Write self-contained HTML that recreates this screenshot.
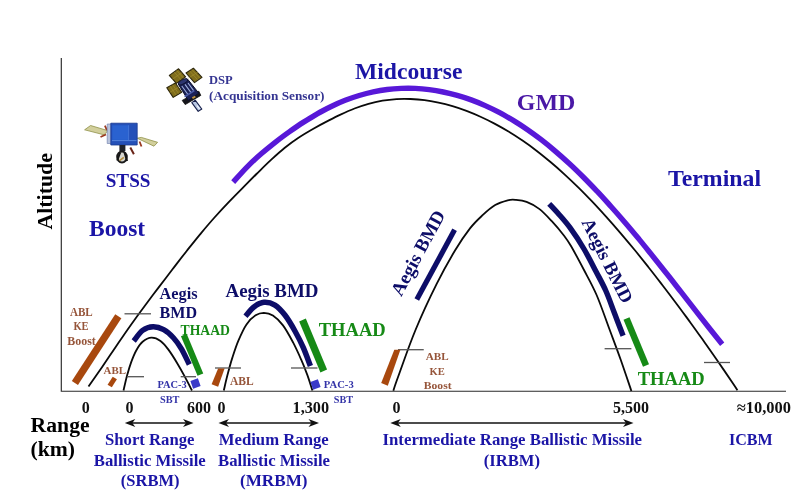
<!DOCTYPE html>
<html><head><meta charset="utf-8"><title>Ballistic Missile Defense</title>
<style>html,body{margin:0;padding:0;background:#fff}svg{display:block}text{font-family:"Liberation Serif",serif;font-weight:bold}</style>
</head><body>
<svg width="800" height="493" viewBox="0 0 800 493">
<rect width="800" height="493" fill="#fff"/>
<path d="M61.3 58V391.2H786" fill="none" stroke="#2a2a2a" stroke-width="1.15"/>
<path d="M88.5 386.6 C90.8 383.2 97.8 373.3 102.5 366.5 C107.2 359.7 111.8 352.6 116.5 345.7 C121.2 338.8 125.8 332.0 130.5 325.4 C135.2 318.8 139.8 312.5 144.5 306.2 C149.2 299.9 153.8 293.8 158.5 287.6 C163.2 281.5 167.8 275.4 172.5 269.3 C177.2 263.2 181.8 257.1 186.5 251.2 C191.2 245.3 195.8 239.4 200.5 233.8 C205.2 228.2 209.8 222.7 214.5 217.5 C219.2 212.3 223.8 207.3 228.5 202.4 C233.2 197.5 237.8 192.8 242.5 188.1 C247.2 183.4 251.8 178.6 256.5 174.0 C261.2 169.4 265.8 164.7 270.5 160.4 C275.2 156.1 279.8 151.8 284.5 148.0 C289.2 144.2 293.8 140.8 298.5 137.7 C303.2 134.6 307.8 131.9 312.5 129.2 C317.2 126.5 321.8 124.0 326.5 121.6 C331.2 119.2 335.8 116.8 340.5 114.6 C345.2 112.4 349.8 110.3 354.5 108.5 C359.2 106.7 363.8 105.1 368.5 103.8 C373.2 102.5 377.8 101.5 382.5 100.7 C387.2 99.9 391.8 99.4 396.5 99.1 C401.2 98.8 405.8 98.8 410.5 99.0 C415.2 99.2 419.8 99.5 424.5 100.1 C429.2 100.7 433.8 101.6 438.5 102.6 C443.2 103.6 447.8 104.8 452.5 106.2 C457.2 107.6 461.8 109.2 466.5 110.9 C471.2 112.7 475.8 114.6 480.5 116.7 C485.2 118.8 489.8 121.1 494.5 123.6 C499.2 126.1 503.8 128.7 508.5 131.5 C513.2 134.3 517.8 137.4 522.5 140.6 C527.2 143.8 531.8 147.1 536.5 150.7 C541.2 154.3 545.8 158.1 550.5 162.0 C555.2 165.9 559.8 170.0 564.5 174.3 C569.2 178.6 573.8 183.0 578.5 187.6 C583.2 192.2 587.8 197.0 592.5 201.9 C597.2 206.8 601.8 211.9 606.5 217.1 C611.2 222.3 615.8 227.6 620.5 233.1 C625.2 238.6 629.8 244.1 634.5 249.8 C639.2 255.5 643.8 261.3 648.5 267.2 C653.2 273.1 657.8 279.1 662.5 285.2 C667.2 291.3 671.8 297.4 676.5 303.7 C681.2 309.9 685.8 316.3 690.5 322.7 C695.2 329.1 699.8 335.6 704.5 342.2 C709.2 348.8 713.8 355.4 718.5 362.2 C723.2 369.0 729.3 378.1 732.5 382.8 C735.7 387.5 736.7 389.1 737.5 390.3" fill="none" stroke="#0a0a0a" stroke-width="1.8"/>
<path d="M393.3 390.8 C394.1 388.3 394.7 386.1 398.4 376.0 C402.1 365.9 409.1 345.4 415.5 330.0 C421.9 314.6 430.2 296.9 436.8 283.7 C443.4 270.4 449.5 259.7 455.0 250.5 C460.5 241.3 465.4 234.3 470.0 228.4 C474.6 222.5 478.4 219.1 482.6 215.2 C486.8 211.3 491.0 207.6 495.2 205.1 C499.4 202.6 504.4 201.2 507.7 200.3 C511.0 199.4 512.1 199.5 515.3 199.8 C518.4 200.1 522.6 200.4 526.6 201.9 C530.6 203.4 535.0 205.7 539.2 208.9 C543.4 212.1 547.6 216.7 551.8 221.2 C556.0 225.7 561.1 231.9 564.3 236.0 C567.5 240.1 567.7 240.3 571.0 246.0 C574.3 251.7 579.7 261.8 584.0 270.0 C588.3 278.2 592.4 285.3 596.6 295.0 C600.8 304.7 605.0 317.2 609.0 328.0 C613.0 338.8 617.1 349.5 620.8 360.0 C624.5 370.5 629.6 385.8 631.4 391.0" fill="none" stroke="#0a0a0a" stroke-width="1.8"/>
<path d="M123.5 390.5 C124.1 387.9 125.9 379.7 127.2 375.0 C128.5 370.3 129.7 366.2 131.2 362.1 C132.7 358.1 134.2 354.1 136.1 350.7 C138.0 347.3 140.0 344.0 142.6 341.8 C145.2 339.6 148.5 337.8 151.5 337.7 C154.5 337.6 157.7 339.0 160.5 341.0 C163.3 343.0 165.8 346.1 168.6 349.9 C171.4 353.7 174.8 359.2 177.5 363.7 C180.2 368.2 182.4 372.2 184.8 376.7 C187.2 381.2 190.8 388.2 192.0 390.5" fill="none" stroke="#0a0a0a" stroke-width="1.8"/>
<path d="M223.8 390.5 C224.4 388.1 225.8 381.5 227.2 376.1 C228.6 370.7 230.4 363.8 232.3 357.9 C234.2 352.0 236.0 346.2 238.4 340.6 C240.8 335.0 243.6 328.6 246.5 324.4 C249.4 320.2 252.7 317.2 255.6 315.3 C258.5 313.4 260.9 312.8 263.8 312.8 C266.7 312.9 269.7 313.5 272.9 315.6 C276.1 317.7 279.6 320.9 283.0 325.4 C286.4 329.9 290.1 336.9 293.2 342.7 C296.2 348.4 298.9 354.5 301.3 359.9 C303.7 365.3 305.5 370.0 307.4 375.1 C309.2 380.2 311.6 387.9 312.4 390.5" fill="none" stroke="#0a0a0a" stroke-width="1.8"/>
<path d="M233.2 182.1 C235.5 179.6 242.5 171.5 247.2 166.8 C251.9 162.1 256.5 157.9 261.2 153.8 C265.9 149.7 270.5 146.0 275.2 142.3 C279.9 138.7 284.5 135.2 289.2 131.9 C293.9 128.6 298.5 125.4 303.2 122.4 C307.9 119.4 312.5 116.5 317.2 113.8 C321.9 111.1 326.5 108.8 331.2 106.5 C335.9 104.2 340.5 102.1 345.2 100.3 C349.9 98.5 354.5 96.9 359.2 95.5 C363.9 94.1 368.5 92.9 373.2 91.9 C377.9 90.9 382.5 90.1 387.2 89.5 C391.9 88.9 396.5 88.6 401.2 88.4 C405.9 88.2 410.5 88.2 415.2 88.4 C419.9 88.6 424.5 89.0 429.2 89.6 C433.9 90.2 438.5 91.0 443.2 92.0 C447.9 93.0 452.5 94.1 457.2 95.4 C461.9 96.7 466.5 98.2 471.2 99.9 C475.9 101.6 480.5 103.5 485.2 105.6 C489.9 107.7 494.5 109.9 499.2 112.4 C503.9 114.9 508.5 117.6 513.2 120.4 C517.9 123.2 522.5 126.3 527.2 129.5 C531.9 132.7 536.5 136.1 541.2 139.7 C545.9 143.3 550.5 147.1 555.2 151.1 C559.9 155.1 564.5 159.2 569.2 163.5 C573.9 167.8 578.5 172.3 583.2 177.0 C587.9 181.7 592.5 186.5 597.2 191.4 C601.9 196.3 606.5 201.5 611.2 206.7 C615.9 211.9 620.5 217.2 625.2 222.7 C629.9 228.1 634.5 233.7 639.2 239.4 C643.9 245.1 648.5 250.9 653.2 256.7 C657.9 262.5 662.5 268.4 667.2 274.3 C671.9 280.2 676.5 286.2 681.2 292.2 C685.9 298.2 690.5 304.1 695.2 310.1 C699.9 316.1 704.7 322.3 709.2 328.0 C713.7 333.7 720.0 341.6 722.2 344.3" fill="none" stroke="#5818d8" stroke-width="5.4"/>
<path d="M133.7 341.0 C135.2 339.2 139.4 332.8 142.6 330.4 C145.8 328.0 149.6 326.8 153.1 326.7 C156.6 326.6 160.3 327.8 163.7 329.6 C167.1 331.4 170.4 334.4 173.4 337.7 C176.4 340.9 179.2 345.0 181.6 349.1 C184.0 353.2 186.8 359.5 188.1 362.1 C189.4 364.7 189.1 364.1 189.3 364.5" fill="none" stroke="#0d0d68" stroke-width="5.4"/>
<path d="M245.5 316.3 C246.8 314.8 250.5 309.5 253.6 307.2 C256.6 304.9 260.2 302.6 263.8 302.3 C267.4 302.0 271.3 302.9 274.9 305.1 C278.4 307.3 281.7 310.9 285.1 315.3 C288.5 319.7 292.2 326.1 295.2 331.5 C298.2 336.9 300.8 341.9 303.3 347.7 C305.8 353.4 309.2 362.9 310.4 366.0" fill="none" stroke="#0d0d68" stroke-width="5.5"/>
<path d="M549.2 203.8 C550.7 205.4 554.5 209.3 558.0 213.3 C561.5 217.3 565.7 221.8 570.0 227.7 C574.3 233.6 579.7 241.7 584.0 249.0 C588.3 256.3 592.4 264.6 596.0 271.5 C599.6 278.4 602.6 283.6 605.7 290.5 C608.8 297.4 611.5 305.4 614.4 313.0 C617.3 320.6 621.6 332.0 623.1 335.8" fill="none" stroke="#0d0d68" stroke-width="5.4"/>
<path d="M416.8 299.5L454.6 229.8" stroke="#0d0d68" stroke-width="5.2"/>
<path d="M124.5 313.8H151" stroke="#555" stroke-width="1.3"/>
<path d="M127 376.7H144" stroke="#555" stroke-width="1.3"/>
<path d="M180.7 376.7H196" stroke="#555" stroke-width="1.3"/>
<path d="M215 368H241" stroke="#555" stroke-width="1.3"/>
<path d="M291 368H317.5" stroke="#555" stroke-width="1.3"/>
<path d="M398 349.7H423.75" stroke="#555" stroke-width="1.3"/>
<path d="M604.6 348.7H631.4" stroke="#555" stroke-width="1.3"/>
<path d="M704 362.5H730" stroke="#555" stroke-width="1.3"/>
<path d="M183.8 335L200.4 374.6" stroke="#168a16" stroke-width="6.2"/>
<path d="M302.5 320L323.75 371" stroke="#168a16" stroke-width="7.2"/>
<path d="M626.5 318.6L646 365.4" stroke="#168a16" stroke-width="6.5"/>
<path d="M74.9 383L118.3 316.2" stroke="#a8480e" stroke-width="7.3"/>
<path d="M109.7 386L114.8 378" stroke="#a8480e" stroke-width="5"/>
<polygon points="218.1,368.4 224.6,368.4 218.1,386.7 211.6,384.2" fill="#a8480e"/>
<polygon points="394.3,349.7 400.4,349.7 387.8,385.8 381.2,383.1" fill="#a8480e"/>
<rect x="191.5" y="379.5" width="8" height="8" fill="#3a3ac8" transform="rotate(-20 195.5 383.5)"/>
<rect x="311.5" y="380.5" width="8" height="8" fill="#3a3ac8" transform="rotate(-20 315.5 384.5)"/>
<text x="355" y="79" font-size="23.5" fill="#1b15a6" text-anchor="start" textLength="107.5" lengthAdjust="spacingAndGlyphs" >Midcourse</text>
<text x="516.8" y="110.2" font-size="23.5" fill="#4a18a6" text-anchor="start" textLength="58.5" lengthAdjust="spacingAndGlyphs" >GMD</text>
<text x="668" y="186.4" font-size="23.5" fill="#1b15a6" text-anchor="start" textLength="93" lengthAdjust="spacingAndGlyphs" >Terminal</text>
<text x="89" y="236" font-size="23.5" fill="#1b15a6" text-anchor="start" textLength="56.2" lengthAdjust="spacingAndGlyphs" >Boost</text>
<text x="105.7" y="186.7" font-size="19.5" fill="#1b15a6" text-anchor="start" textLength="44.8" lengthAdjust="spacingAndGlyphs" >STSS</text>
<text x="209" y="83.9" font-size="12.5" fill="#353592" text-anchor="start" >DSP</text>
<text x="209" y="100.4" font-size="12.8" fill="#353592" text-anchor="start" textLength="115.5" lengthAdjust="spacingAndGlyphs" >(Acquisition Sensor)</text>
<text x="0" y="0" font-size="20.4" fill="#000" text-anchor="start" textLength="76.6" lengthAdjust="spacingAndGlyphs" transform="translate(52.2 229.6) rotate(-90)">Altitude</text>
<text x="30.6" y="432.3" font-size="21.7" fill="#000" text-anchor="start" textLength="59" lengthAdjust="spacingAndGlyphs" >Range</text>
<text x="30.6" y="455.6" font-size="21.6" fill="#000" text-anchor="start" textLength="44.5" lengthAdjust="spacingAndGlyphs" >(km)</text>
<text x="159.5" y="298.5" font-size="16.3" fill="#0d0d68" text-anchor="start" textLength="38" lengthAdjust="spacingAndGlyphs" >Aegis</text>
<text x="159.5" y="318" font-size="16.3" fill="#0d0d68" text-anchor="start" textLength="37.5" lengthAdjust="spacingAndGlyphs" >BMD</text>
<text x="225.5" y="297" font-size="18.9" fill="#0d0d68" text-anchor="start" textLength="93" lengthAdjust="spacingAndGlyphs" >Aegis BMD</text>
<text x="0" y="0" font-size="19" fill="#0d0d68" text-anchor="start" textLength="94" lengthAdjust="spacingAndGlyphs" transform="translate(401.2 297.3) rotate(-61.7)">Aegis BMD</text>
<text x="0" y="0" font-size="18.7" fill="#0d0d68" text-anchor="start" textLength="92" lengthAdjust="spacingAndGlyphs" transform="translate(581.2 222.3) rotate(63.3)">Aegis BMD</text>
<text x="180.5" y="335.4" font-size="13.7" fill="#168a16" text-anchor="start" textLength="49.5" lengthAdjust="spacingAndGlyphs" >THAAD</text>
<text x="318.75" y="336" font-size="18.6" fill="#168a16" text-anchor="start" textLength="67" lengthAdjust="spacingAndGlyphs" >THAAD</text>
<text x="637.75" y="384.5" font-size="18.6" fill="#168a16" text-anchor="start" textLength="67" lengthAdjust="spacingAndGlyphs" >THAAD</text>
<text x="69.9" y="316" font-size="11.5" fill="#96553a" text-anchor="start" textLength="22.9" lengthAdjust="spacingAndGlyphs" >ABL</text>
<text x="73.4" y="330" font-size="11.5" fill="#96553a" text-anchor="start" textLength="15.3" lengthAdjust="spacingAndGlyphs" >KE</text>
<text x="67.3" y="344.8" font-size="11.5" fill="#96553a" text-anchor="start" textLength="28.5" lengthAdjust="spacingAndGlyphs" >Boost</text>
<text x="103.6" y="374.3" font-size="11.3" fill="#96553a" text-anchor="start" textLength="22.4" lengthAdjust="spacingAndGlyphs" >ABL</text>
<text x="230" y="384.5" font-size="11.5" fill="#96553a" text-anchor="start" textLength="23.75" lengthAdjust="spacingAndGlyphs" >ABL</text>
<text x="425.8" y="359.8" font-size="11.3" fill="#96553a" text-anchor="start" textLength="22.9" lengthAdjust="spacingAndGlyphs" >ABL</text>
<text x="429.5" y="374.6" font-size="11.3" fill="#96553a" text-anchor="start" textLength="15.3" lengthAdjust="spacingAndGlyphs" >KE</text>
<text x="423.75" y="388.8" font-size="11.3" fill="#96553a" text-anchor="start" textLength="27.8" lengthAdjust="spacingAndGlyphs" >Boost</text>
<text x="157.4" y="388" font-size="10.3" fill="#3434a8" text-anchor="start" textLength="29.4" lengthAdjust="spacingAndGlyphs" >PAC-3</text>
<text x="160" y="402.5" font-size="10.3" fill="#3434a8" text-anchor="start" textLength="19.5" lengthAdjust="spacingAndGlyphs" >SBT</text>
<text x="323.75" y="387.5" font-size="10.4" fill="#3434a8" text-anchor="start" textLength="30" lengthAdjust="spacingAndGlyphs" >PAC-3</text>
<text x="333.75" y="402.5" font-size="10.3" fill="#3434a8" text-anchor="start" textLength="19.3" lengthAdjust="spacingAndGlyphs" >SBT</text>
<text x="81.8" y="412.5" font-size="16" fill="#111" text-anchor="start" >0</text>
<text x="125.4" y="412.5" font-size="16" fill="#111" text-anchor="start" >0</text>
<text x="187" y="412.5" font-size="16" fill="#111" text-anchor="start" textLength="24" lengthAdjust="spacingAndGlyphs" >600</text>
<text x="217.6" y="412.5" font-size="16" fill="#111" text-anchor="start" >0</text>
<text x="292.5" y="412.5" font-size="16" fill="#111" text-anchor="start" textLength="36.6" lengthAdjust="spacingAndGlyphs" >1,300</text>
<text x="392.6" y="412.5" font-size="16" fill="#111" text-anchor="start" >0</text>
<text x="613" y="412.5" font-size="16" fill="#111" text-anchor="start" textLength="36" lengthAdjust="spacingAndGlyphs" >5,500</text>
<text x="736.8" y="412.5" font-size="16" fill="#111" text-anchor="start" textLength="54.2" lengthAdjust="spacingAndGlyphs" >≈10,000</text>
<path d="M127.8 423H190.5" stroke="#111" stroke-width="1.5"/><path d="M124.8 423l10.5 -4l-3 4l3 4z" fill="#111"/><path d="M193.5 423l-10.5 -4l3 4l-3 4z" fill="#111"/>
<path d="M221.5 423H316" stroke="#111" stroke-width="1.5"/><path d="M218.5 423l10.5 -4l-3 4l3 4z" fill="#111"/><path d="M319 423l-10.5 -4l3 4l-3 4z" fill="#111"/>
<path d="M393.3 423H630.5" stroke="#111" stroke-width="1.5"/><path d="M390.3 423l10.5 -4l-3 4l3 4z" fill="#111"/><path d="M633.5 423l-10.5 -4l3 4l-3 4z" fill="#111"/>
<text x="105" y="444.6" font-size="16.7" fill="#1b15a6" text-anchor="start" textLength="89.5" lengthAdjust="spacingAndGlyphs" >Short Range</text>
<text x="93.75" y="466" font-size="16.7" fill="#1b15a6" text-anchor="start" textLength="112" lengthAdjust="spacingAndGlyphs" >Ballistic Missile</text>
<text x="120.75" y="485.5" font-size="16.7" fill="#1b15a6" text-anchor="start" textLength="58.75" lengthAdjust="spacingAndGlyphs" >(SRBM)</text>
<text x="218.75" y="444.6" font-size="16.7" fill="#1b15a6" text-anchor="start" textLength="110" lengthAdjust="spacingAndGlyphs" >Medium Range</text>
<text x="218" y="466" font-size="16.7" fill="#1b15a6" text-anchor="start" textLength="112" lengthAdjust="spacingAndGlyphs" >Ballistic Missile</text>
<text x="240" y="485.5" font-size="16.7" fill="#1b15a6" text-anchor="start" textLength="67.5" lengthAdjust="spacingAndGlyphs" >(MRBM)</text>
<text x="382.5" y="444.6" font-size="16.7" fill="#1b15a6" text-anchor="start" textLength="259.5" lengthAdjust="spacingAndGlyphs" >Intermediate Range Ballistic Missile</text>
<text x="483.75" y="465.8" font-size="16.7" fill="#1b15a6" text-anchor="start" textLength="56.25" lengthAdjust="spacingAndGlyphs" >(IRBM)</text>
<text x="729" y="444.6" font-size="16.7" fill="#1b15a6" text-anchor="start" textLength="43.7" lengthAdjust="spacingAndGlyphs" >ICBM</text>
<g id="dsp" stroke-linejoin="round">
<polygon points="169.3,75.4 178.6,68.8 185.6,76.8 176.4,83.4" fill="#7f6d1c" stroke="#2c260c" stroke-width="1.1"/>
<polygon points="186,73 193.4,68.2 202,77.4 194.5,82.6" fill="#7f6d1c" stroke="#2c260c" stroke-width="1.1"/>
<polygon points="166.8,87.8 175.4,83 181.7,92.2 173.2,97.4" fill="#7f6d1c" stroke="#2c260c" stroke-width="1.1"/>
<path d="M172 79.5l9.5-6.6M174.2 72l7 8M176.6 70.3l7 8M188.5 78l9.5-6M189.5 70.8l8 8.8M191.8 69.4l8 8.8M169.5 92.5l9-5.2M170 86l6 9M172.6 84.6l6 9" stroke="#a08c2c" stroke-width="0.7" fill="none"/>
<polygon points="191.8,102.6 195.2,100.2 201.8,109 198.2,111.4" fill="#b9c8e2" stroke="#18204a" stroke-width="1.1"/>
<path d="M197 105.5l2.600000000000001 3.5" stroke="#f4f8ff" stroke-width="1.2"/>
<polygon points="182.2,100.4 185.2,104.6 200.8,95.4 198.8,91.2" fill="#16161c" stroke="#0c0c0c" stroke-width="0.8"/>
<polygon points="178.3,84.2 187.8,79.4 198.8,93.2 188.4,100.6" fill="#1a2056" stroke="#0c0f28" stroke-width="1"/>
<ellipse cx="183" cy="81.8" rx="5.3" ry="2.1" transform="rotate(-27 183 81.8)" fill="#2c3570" stroke="#0c0f28" stroke-width="0.8"/>
<path d="M181.8 86l5.800000000000001 8M185 84.4l6 8.2M188 83l5.600000000000001 7.6" stroke="#9fb0dc" stroke-width="1.1" fill="none"/>
<path d="M184.6 96.8l9.8-6.2" stroke="#4a5aa8" stroke-width="1.6" fill="none"/>
<rect x="192.2" y="96.4" width="3.4" height="2" fill="#c09440" transform="rotate(-30 193.8 97.4)"/>
</g>
<g id="stss" stroke-linejoin="round">
<polygon points="84.6,129.8 90.6,125.5 108,130.7 104,134.8" fill="#d2cf9c" stroke="#8f9048" stroke-width="0.8"/>
<polygon points="137.2,138.2 141.3,137.4 157.6,142.3 154,146.2" fill="#d2cf9c" stroke="#8f9048" stroke-width="0.8"/>
<path d="M104.9 125.6l2 4.6M100.5 137l5.5-2.5M139.5 141.5l2 5" stroke="#9a3a20" stroke-width="1.8" fill="none"/>
<path d="M130.3 147.5l3.6 6.8" stroke="#6a2418" stroke-width="2" fill="none"/>
<rect x="107.2" y="124" width="5" height="19.5" fill="#b9c4dc" stroke="#6a78a8" stroke-width="0.6"/>
<rect x="110.8" y="123.2" width="26.4" height="21.8" fill="#2450b8" stroke="#1a3a90" stroke-width="0.8"/>
<rect x="112.2" y="125.3" width="16.2" height="14.6" fill="#2a62d0"/>
<path d="M112 140.6h24.5" stroke="#5b8ae2" stroke-width="0.9"/>
<path d="M128.6 125.2v14.8" stroke="#4a7cdc" stroke-width="0.8"/>
<rect x="119.4" y="145" width="6" height="6" fill="#20242c"/>
<ellipse cx="122" cy="157" rx="4.8" ry="5.4" fill="#d6d6d0" stroke="#1a1a1a" stroke-width="2"/>
<path d="M117.2 160.5l3-8M124.5 152.5l2.6 8.5" stroke="#141414" stroke-width="2" fill="none"/>
<path d="M119.6 160.6l4.2-3.2" stroke="#b08a3a" stroke-width="1.6"/>
</g>

</svg>
</body></html>
